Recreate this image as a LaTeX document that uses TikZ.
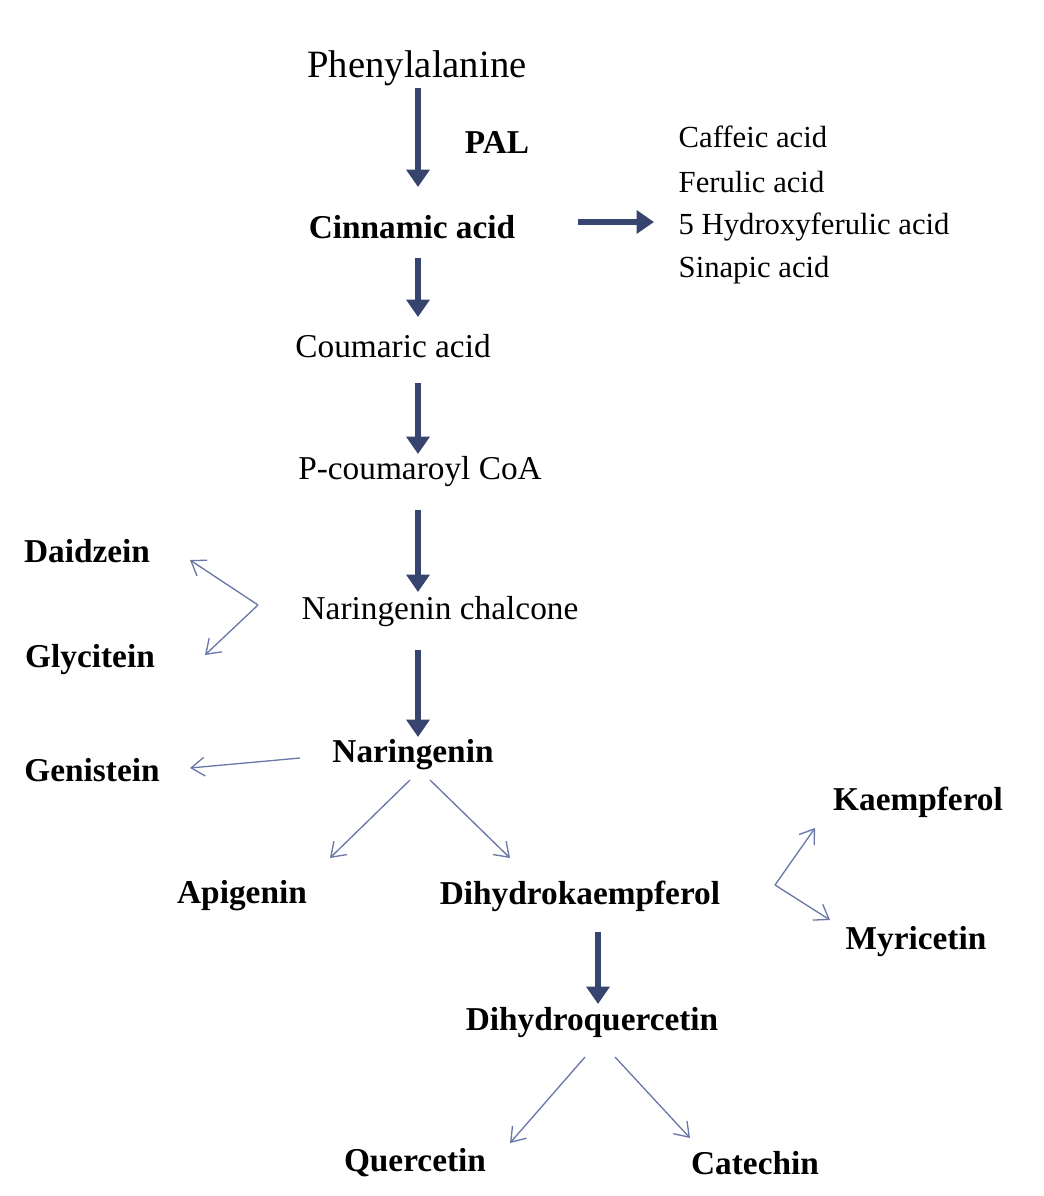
\documentclass[tikz,border=0pt]{standalone}
\usepackage{fontspec}
\setmainfont{Liberation Serif}
\usetikzlibrary{arrows.meta}
\definecolor{thk}{HTML}{36446F}
\definecolor{thn}{HTML}{6A78A8}
\begin{document}
\begin{tikzpicture}[x=0.75pt,y=-0.75pt,
  big/.style={font=\fontsize{29}{33}\selectfont},
  reg/.style={font=\fontsize{25}{29}\selectfont},
  bld/.style={font=\bfseries\fontsize{25}{29}\selectfont},
  lst/.style={font=\fontsize{23}{27}\selectfont,anchor=west},
  thick arrow/.style={draw=thk,line width=4.5pt,-{Triangle[length=13pt,width=17pt]}},
  thin arrow/.style={draw=thn,line width=1pt,-{Straight Barb[length=10pt,width=14pt]}}]
\useasboundingbox (0,0) rectangle (1044,1196);
\node[big] (phe) at (417,68) {Phenylalanine};
\node[bld] (pal) at (497,142) {PAL};
\node[bld] (cin) at (412,227) {Cinnamic acid};
\node[lst] (caf) at (674,137) {Caffeic acid};
\node[lst] (fer) at (674,182) {Ferulic acid};
\node[lst] (hyd) at (674,227) {5 Hydroxyferulic acid};
\node[lst] (sin) at (674,270) {Sinapic acid};
\node[reg] (cou) at (393,346) {Coumaric acid};
\node[reg] (pco) at (420,472) {P-coumaroyl CoA};
\node[reg] (nch) at (440,612) {Naringenin chalcone};
\node[bld] (dai) at (87,551) {Daidzein};
\node[bld] (gly) at (90,660) {Glycitein};
\node[bld] (nar) at (413,755) {Naringenin};
\node[bld] (gen) at (92,770) {Genistein};
\node[bld] (api) at (242,896) {Apigenin};
\node[bld] (dhk) at (580,896) {Dihydrokaempferol};
\node[bld] (kae) at (918,802) {Kaempferol};
\node[bld] (myr) at (916,942) {Myricetin};
\node[bld] (dhq) at (592,1023) {Dihydroquercetin};
\node[bld] (que) at (415,1163) {Quercetin};
\node[bld] (cat) at (755,1163) {Catechin};
\coordinate (c1) at (418,88); \coordinate (c1e) at (418,187);
\coordinate (c2) at (578,222); \coordinate (c2e) at (654,222);
\coordinate (c3) at (418,258); \coordinate (c3e) at (418,317);
\coordinate (c4) at (418,383); \coordinate (c4e) at (418,454);
\coordinate (c5) at (418,510); \coordinate (c5e) at (418,592);
\coordinate (c6) at (418,650); \coordinate (c6e) at (418,737);
\coordinate (c7) at (598,932); \coordinate (c7e) at (598,1004);
\draw[thick arrow] (c1) -- (c1e);
\draw[thick arrow] (c2) -- (c2e);
\draw[thick arrow] (c3) -- (c3e);
\draw[thick arrow] (c4) -- (c4e);
\draw[thick arrow] (c5) -- (c5e);
\draw[thick arrow] (c6) -- (c6e);
\draw[thick arrow] (c7) -- (c7e);
\coordinate (v1) at (258,605);
\draw[thin arrow] (v1) -- (190,560);
\draw[thin arrow] (v1) -- (205,655);
\draw[thin arrow] (300,758) -- (190,768);
\draw[thin arrow] (410,780) -- (330,858);
\draw[thin arrow] (430,780) -- (510,858);
\coordinate (v2) at (775,885);
\draw[thin arrow] (v2) -- (815,828);
\draw[thin arrow] (v2) -- (830,920);
\draw[thin arrow] (585,1057) -- (510,1143);
\draw[thin arrow] (615,1057) -- (690,1138);
\end{tikzpicture}
\end{document}
